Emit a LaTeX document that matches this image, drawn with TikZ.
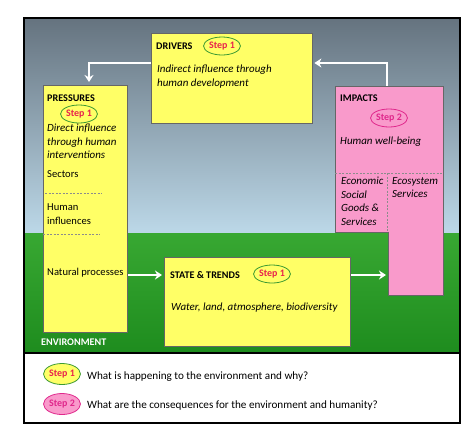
\documentclass[tikz,border=0pt]{standalone}
\usepackage{fontspec}
\setmainfont{Carlito}
\usetikzlibrary{shapes.geometric,arrows.meta,positioning,calc}
\definecolor{skytop}{HTML}{65737F}
\definecolor{skybot}{HTML}{BCD8E8}
\definecolor{grasstop}{HTML}{38A832}
\definecolor{grassbot}{HTML}{1E8C1E}
\definecolor{boxy}{HTML}{FFFF66}
\definecolor{boxp}{HTML}{F99ACB}
\definecolor{stepred}{HTML}{E8244C}
\definecolor{stepmag}{HTML}{E0288C}
\definecolor{stepgrn}{HTML}{3C9A32}
\tikzset{
  box/.style  = { draw=black!60, thin, anchor=north west, inner sep=0pt },
  ybox/.style = { box, fill=boxy },
  hd/.style   = { font=\fontsize{10.2}{12}\selectfont\bfseries, anchor=base west, inner sep=0pt },
  itl/.style  = { font=\fontsize{11}{13.6}\selectfont\itshape, align=left, anchor=north west, inner sep=0pt },
  txt/.style  = { font=\fontsize{10.6}{13.6}\selectfont, align=left, anchor=north west, inner sep=0pt },
  stepov/.style = { ellipse, draw=#1, thick, inner sep=0.2pt, minimum height=18bp, font=\fontsize{10}{11}\selectfont\bfseries },
  flow/.style = { draw=white, line width=2.2bp, -{Stealth[length=7bp,width=9bp]} },
  divline/.style = { draw=black!45, dash pattern=on 2bp off 1.5bp },
  qtxt/.style = { font=\fontsize{11.2}{13}\selectfont, anchor=base west, inner sep=0pt }
}
\begin{document}
\begin{tikzpicture}[x=1bp,y=-1bp]
  \useasboundingbox (0,0) rectangle (474,426);
  % environment panel
  \shade[top color=skytop,bottom color=skybot] (24,18) rectangle (460,233);
  \shade[top color=grasstop,bottom color=grassbot] (24,233) rectangle (460,353);
  \fill[white] (24,353) rectangle (460,423);

  % boxes
  \node[ybox, minimum width=161bp, minimum height=90bp] (drv) at (151,33) {};
  \node[ybox, minimum width=84bp, minimum height=247bp] (prs) at (43,85) {};
  \node[ybox, minimum width=186bp, minimum height=89bp] (st) at (164,257) {};
  \draw[draw=black!60, thin, fill=boxp] (335,86) -- (443,86) -- (443,295)
    -- (388,295) -- (388,232) -- (335,232) -- cycle;
  \coordinate (imp) at (335,86);
  \coordinate (impup) at ($(imp)+(52,0)$);
  \coordinate (eco) at ($(imp)+(51,189)$);

  % flows
  \draw[flow] ($(drv.north west)+(0,30)$) -| ($(prs.north west)+(46,-3)$);
  \draw[flow] (impup) |- ($(drv.north east)+(2,30)$);
  \draw[flow] ($(prs.north east)+(1,190)$) -- ($(st.north west)+(-2,18)$);
  \draw[flow] ($(st.north east)+(1,18)$) -- (eco);

  % drivers
  \node[hd] (drvh) at (156,49) {DRIVERS};
  \node[stepov=stepgrn, text=stepred] (drvs) at (222,46) {Step 1};
  \node[itl] (drvt) at (157,65) {Indirect influence through\\human development};

  % pressures
  \node[hd] (prsh) at (47,101) {PRESSURES};
  \node[stepov=stepgrn, text=stepred] (prss) at (79,114) {Step 1};
  \node[itl] (prst) at (47,124) {Direct influence\\through human\\interventions};
  \node[txt] (sect) at (47,170) {Sectors};
  \draw[divline] (45,193) -- (102,193);
  \node[txt] (huma) at (47,204) {Human\\influences};
  \draw[divline] (43,234) -- (100,234);
  \node[txt] (natp) at (47,268) {Natural processes};

  % impacts
  \node[hd] (imph) at (340,101) {IMPACTS};
  \node[stepov=stepmag, text=stepmag] (imps) at (389,118) {Step 2};
  \node[itl] (impt) at (340,137) {Human well-being};
  \draw[divline] (335,173) -- (443,173);
  \draw[divline] (387,173) -- (387,232);
  \node[itl] (econ) at (341,177) {Economic\\Social\\Goods \&\\Services};
  \node[itl] (ecos) at (392,177) {Ecosystem\\Services};

  % state and trends
  \node[hd] (sth) at (170,278) {STATE \& TRENDS};
  \node[stepov=stepgrn, text=stepred] (sts) at (272,274) {Step 1};
  \node[itl] (stt) at (171,303) {Water, land, atmosphere, biodiversity};

  \node[hd, text=white] (env) at (41,345) {ENVIRONMENT};

  % legend
  \node[stepov=stepgrn, fill=boxy, text=stepred, minimum height=21bp] (lg1) at (62,374) {Step 1};
  \node[qtxt] (q1) at (87,379) {What is happening to the environment and why?};
  \node[stepov=stepmag, fill=boxp, text=stepmag, minimum height=21bp] (lg2) at (62,404) {Step 2};
  \node[qtxt] (q2) at (87,408) {What are the consequences for the environment and humanity?};

  % frame
  \draw[line width=1.2bp] (24,18) rectangle (460,423);
  \draw[line width=1.6bp] (24,353) -- (460,353);
\end{tikzpicture}
\end{document}
